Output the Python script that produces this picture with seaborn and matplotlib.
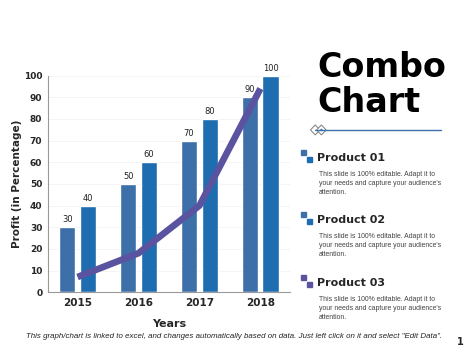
import pandas as pd
import matplotlib.pyplot as plt
import seaborn as sns
from matplotlib.patches import Rectangle, Polygon
from matplotlib.lines import Line2D

years = ['2015', '2016', '2017', '2018']
product_01 = [30, 50, 70, 90]
product_02 = [40, 60, 80, 100]
trend = [7, 18, 40, 94]
yticks = list(range(0, 101, 10))

products = ['Product 01', 'Product 02', 'Product 03']
blurb = "This slide is 100% editable. Adapt it to\nyour needs and capture your audience's\nattention."

c1 = '#3d6fa8'
c2 = '#1f6db1'
c3 = '#5a53a0'

frame = pd.DataFrame({
    'Year': years * 2,
    'Profit': product_01 + product_02,
    'Series': ['A'] * 4 + ['B'] * 4,
})

sns.set_style('white')
plt.rcParams['font.family'] = ['DejaVu Sans']

fig = plt.figure(figsize=(4.74, 3.55), dpi=100)
ax = fig.add_axes([0.101, 0.177, 0.511, 0.61])

ax.set_axisbelow(True)
ax.yaxis.grid(True, color='#f2f2f2', lw=0.6)
sns.barplot(data=frame, x='Year', y='Profit', hue='Series', palette=[c1, c2],
            width=0.68, gap=0.2, legend=False, ax=ax, saturation=1)
sns.lineplot(x=range(len(years)), y=trend, color=c3, linewidth=4.8, ax=ax,
             solid_capstyle='butt')

for cont in ax.containers:
    ax.bar_label(cont, fontsize=6, padding=2, color='#222222')

ax.set_ylim(0, 100)
ax.set_yticks(yticks)
ax.tick_params(axis='y', labelsize=6.5, length=0, pad=4)
ax.tick_params(axis='x', labelsize=7.5, length=0, pad=4)
for lab in ax.get_xticklabels() + ax.get_yticklabels():
    lab.set_fontweight('bold')
ax.set_ylabel('Profit (in Percentage)', fontsize=7.5, fontweight='bold', labelpad=1)
ax.set_xlabel('Years', fontsize=8, fontweight='bold', labelpad=8)
for s in ['top', 'right']:
    ax.spines[s].set_visible(False)
for s in ['left', 'bottom']:
    ax.spines[s].set_color('#999999')
    ax.spines[s].set_linewidth(0.8)

# title block
fig.text(0.669, 0.783, 'Combo', fontsize=24, fontweight='bold', va='baseline', ha='left',
         color='black')
fig.text(0.669, 0.685, 'Chart', fontsize=24, fontweight='bold', va='baseline', ha='left',
         color='black')
fig.add_artist(Line2D([0.665, 0.93], [0.634, 0.634], color='#3d6fa8', lw=1,
                      transform=fig.transFigure))
for dx in [0.0, 0.013]:
    cx = 0.665 + dx
    fig.add_artist(Polygon([[cx - 0.01, 0.634], [cx, 0.648], [cx + 0.01, 0.634], [cx, 0.620]],
                           closed=True, facecolor='white', edgecolor='#8a8a8a', lw=0.8,
                           transform=fig.transFigure))
fig.add_artist(Polygon([[0.673, 0.634], [0.678, 0.641], [0.683, 0.634], [0.678, 0.627]],
                       closed=True, facecolor='#3d6fa8', transform=fig.transFigure))

icon_colors = [(c1, c2), (c1, c2), (c3, c3)]
heads_y = [0.555, 0.38, 0.203]
for name, hy, (ia, ib) in zip(products, heads_y, icon_colors):
    fig.add_artist(Rectangle((0.634, hy + 0.008), 0.011, 0.014, color=ia,
                             transform=fig.transFigure))
    fig.add_artist(Rectangle((0.648, hy - 0.012), 0.011, 0.014, color=ib,
                             transform=fig.transFigure))
    fig.text(0.668, hy, name, fontsize=8, fontweight='bold', va='center', ha='left')
    fig.text(0.672, hy - 0.036, blurb, fontsize=4.95, color='#444444', va='top',
             ha='left', linespacing=1.45, family='Liberation Sans')

fig.text(0.494, 0.051, 'This graph/chart is linked to excel, and changes automatically based on data. '
         'Just left click on it and select "Edit Data".', fontsize=5.65, style='italic',
         color='#222222', ha='center', va='center', family='Liberation Sans')
fig.text(0.972, 0.036, '1', fontsize=7, fontweight='bold', ha='center', va='center')

plt.savefig('out.png', dpi=100)
